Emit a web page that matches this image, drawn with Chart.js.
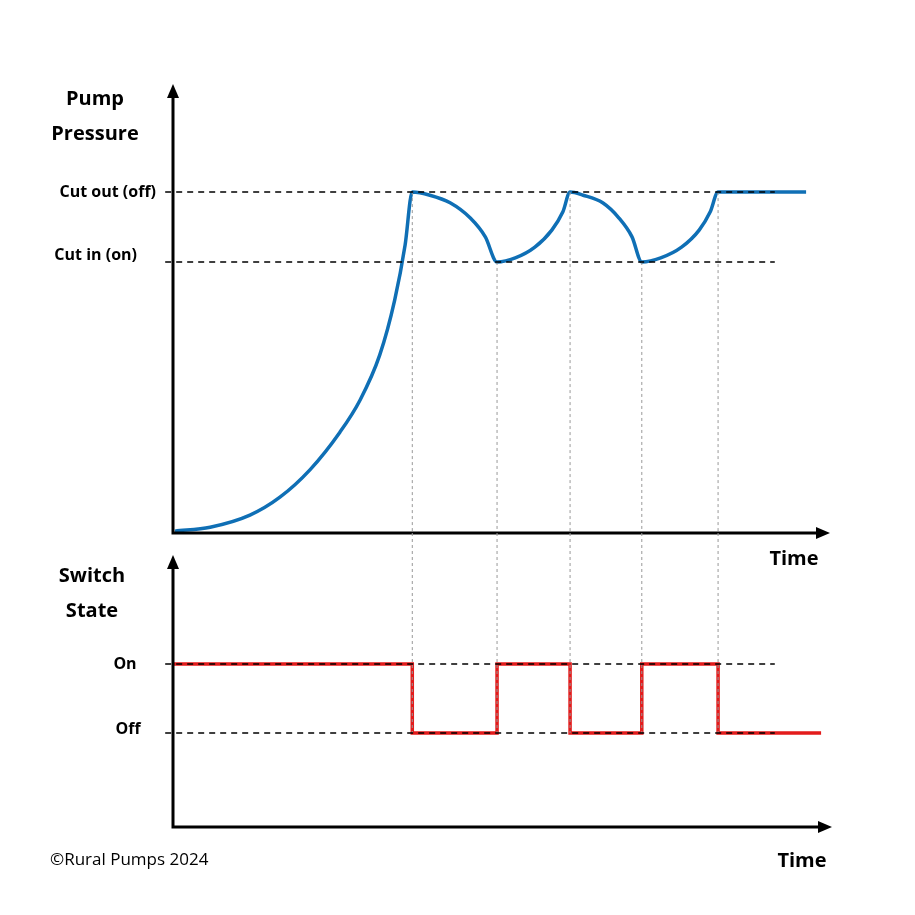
<!DOCTYPE html>
<html>
<head>
<meta charset="utf-8">
<script src="https://cdn.jsdelivr.net/npm/chart.js@4"></script>
<style>
  body { margin: 0; background: #fff; }
  canvas { position: absolute; left: 0; top: 0; }
</style>
</head>
<body>
<canvas id="top" width="915" height="915"></canvas>
<canvas id="bottom" width="915" height="915"></canvas>
<script>
// x runs 0..100 across the time axis, y 0..100 up each panel
const cutOut = 76.1;
const cutIn = 60.5;
const switchOn = 55.4;
const switchOff = 32.0;
const dashEnd = 92.3;
const dashStart = -1.2;

// pressure curve
const pressureX = [0.3, 5.7, 11.8, 16.4, 21, 25.6, 28.7, 31.7, 34, 35.6, 36.7,
                   39.4, 42.5, 45.6, 47.9, 49.7,
                   52.5, 55.5, 58.1, 59.8, 60.9,
                   62.9, 65.9, 68.4, 70.4, 71.9,
                   74.8, 78.0, 80.7, 82.4, 83.6, 97.1];
const pressureY = [0.4, 1.3, 4, 8, 14.1, 22.5, 29.7, 39.7, 52, 64.3, 76.1,
                   75.4, 73.7, 70.3, 66.1, 60.5,
                   61.4, 63.8, 67.6, 71.7, 76.1,
                   75.4, 73.7, 70.3, 66.1, 60.5,
                   61.4, 63.8, 67.6, 71.7, 76.1, 76.1];

// switch state steps (x where the state changes)
const switchX = [0, 36.7, 49.7, 60.9, 71.9, 83.6, 99.4];
const switchY = [switchOn, switchOff, switchOn, switchOff, switchOn, switchOff, switchOff];

// times of the switch events and the pressure at each
const eventX = [36.7, 49.7, 60.9, 71.9, 83.6];
const eventP = [cutOut, cutIn, cutOut, cutIn, cutOut];

const FONT = '"Open Sans", "Liberation Sans", sans-serif';

function pts(xs, ys) { return xs.map((x, i) => ({ x: x, y: ys[i] })); }

function dashed(y) {
    return { data: [{ x: dashStart, y: y }, { x: dashEnd, y: y }], borderColor: '#000', borderWidth: 1.5,
             borderDash: [6, 5], pointRadius: 0, clip: false };
}

function guide(x, y0, y1) {
    return { data: [{ x: x, y: y0 }, { x: x, y: y1 }], borderColor: '#999', borderWidth: 1,
             borderDash: [3, 3], pointRadius: 0, clip: false };
}

function arrowAxes(opts) {
    return {
        id: 'axes',
        afterDraw(chart) {
            const ctx = chart.ctx;
            const a = chart.chartArea;
            ctx.save();
            ctx.strokeStyle = '#000';
            ctx.fillStyle = '#000';
            ctx.lineWidth = 3;
            ctx.beginPath();
            ctx.moveTo(a.left, opts.yTop + 10);
            ctx.lineTo(a.left, a.bottom);
            ctx.lineTo(opts.xEnd - 10, a.bottom);
            ctx.stroke();
            ctx.beginPath();
            ctx.moveTo(a.left, opts.yTop);
            ctx.lineTo(a.left - 6, opts.yTop + 14);
            ctx.lineTo(a.left + 6, opts.yTop + 14);
            ctx.fill();
            ctx.beginPath();
            ctx.moveTo(opts.xEnd, a.bottom);
            ctx.lineTo(opts.xEnd - 14, a.bottom - 6);
            ctx.lineTo(opts.xEnd - 14, a.bottom + 6);
            ctx.fill();
            opts.texts.forEach(t => {
                ctx.font = (t.bold ? 'bold ' : '') + t.size + 'px ' + FONT;
                ctx.textAlign = t.align;
                ctx.textBaseline = 'middle';
                ctx.fillText(t.text, t.x, t.y);
            });
            ctx.restore();
        }
    };
}

const baseOptions = (pad) => ({
    responsive: false,
    animation: false,
    layout: { padding: pad },
    plugins: { legend: { display: false }, tooltip: { enabled: false } },
    scales: {
        x: { type: 'linear', min: 0, max: 100, display: false },
        y: { min: 0, max: 100, display: false }
    }
});

new Chart(document.getElementById('top'), {
    type: 'line',
    data: {
        datasets: [
            dashed(cutOut),
            dashed(cutIn),
            ...eventX.map((x, i) => guide(x, eventP[i], 0)),
            { data: pts(pressureX, pressureY), borderColor: '#0f6fb5', borderWidth: 3.5,
              pointRadius: 0, cubicInterpolationMode: 'monotone' }
        ]
    },
    options: baseOptions({ left: 173, right: 90, top: 85, bottom: 382 }),
    plugins: [arrowAxes({ yTop: 84, xEnd: 830, texts: [
        { text: 'Pump', x: 95, y: 99, size: 20, bold: true, align: 'center' },
        { text: 'Pressure', x: 95, y: 134, size: 20, bold: true, align: 'center' },
        { text: 'Cut out (off)', x: 156, y: 192, size: 16, bold: true, align: 'right' },
        { text: 'Cut in (on)', x: 137, y: 255, size: 16, bold: true, align: 'right' },
        { text: 'Time', x: 794, y: 559, size: 20, bold: true, align: 'center' }
    ] })]
});

new Chart(document.getElementById('bottom'), {
    type: 'line',
    data: {
        datasets: [
            dashed(switchOn),
            dashed(switchOff),
            ...eventX.map(x => guide(x, 100, switchOff)),
            { data: pts(switchX, switchY), borderColor: '#e31b1b', borderWidth: 3.5,
              pointRadius: 0, stepped: 'before' }
        ]
    },
    options: baseOptions({ left: 173, right: 90, top: 533, bottom: 88 }),
    plugins: [arrowAxes({ yTop: 555, xEnd: 832, texts: [
        { text: 'Switch', x: 92, y: 576, size: 20, bold: true, align: 'center' },
        { text: 'State', x: 92, y: 611, size: 20, bold: true, align: 'center' },
        { text: 'On', x: 125, y: 664, size: 16, bold: true, align: 'center' },
        { text: 'Off', x: 128, y: 729, size: 16, bold: true, align: 'center' },
        { text: 'Time', x: 802, y: 861, size: 20, bold: true, align: 'center' },
        { text: '©Rural Pumps 2024', x: 50, y: 860, size: 17, bold: false, align: 'left' }
    ] })]
});
</script>
</body>
</html>
